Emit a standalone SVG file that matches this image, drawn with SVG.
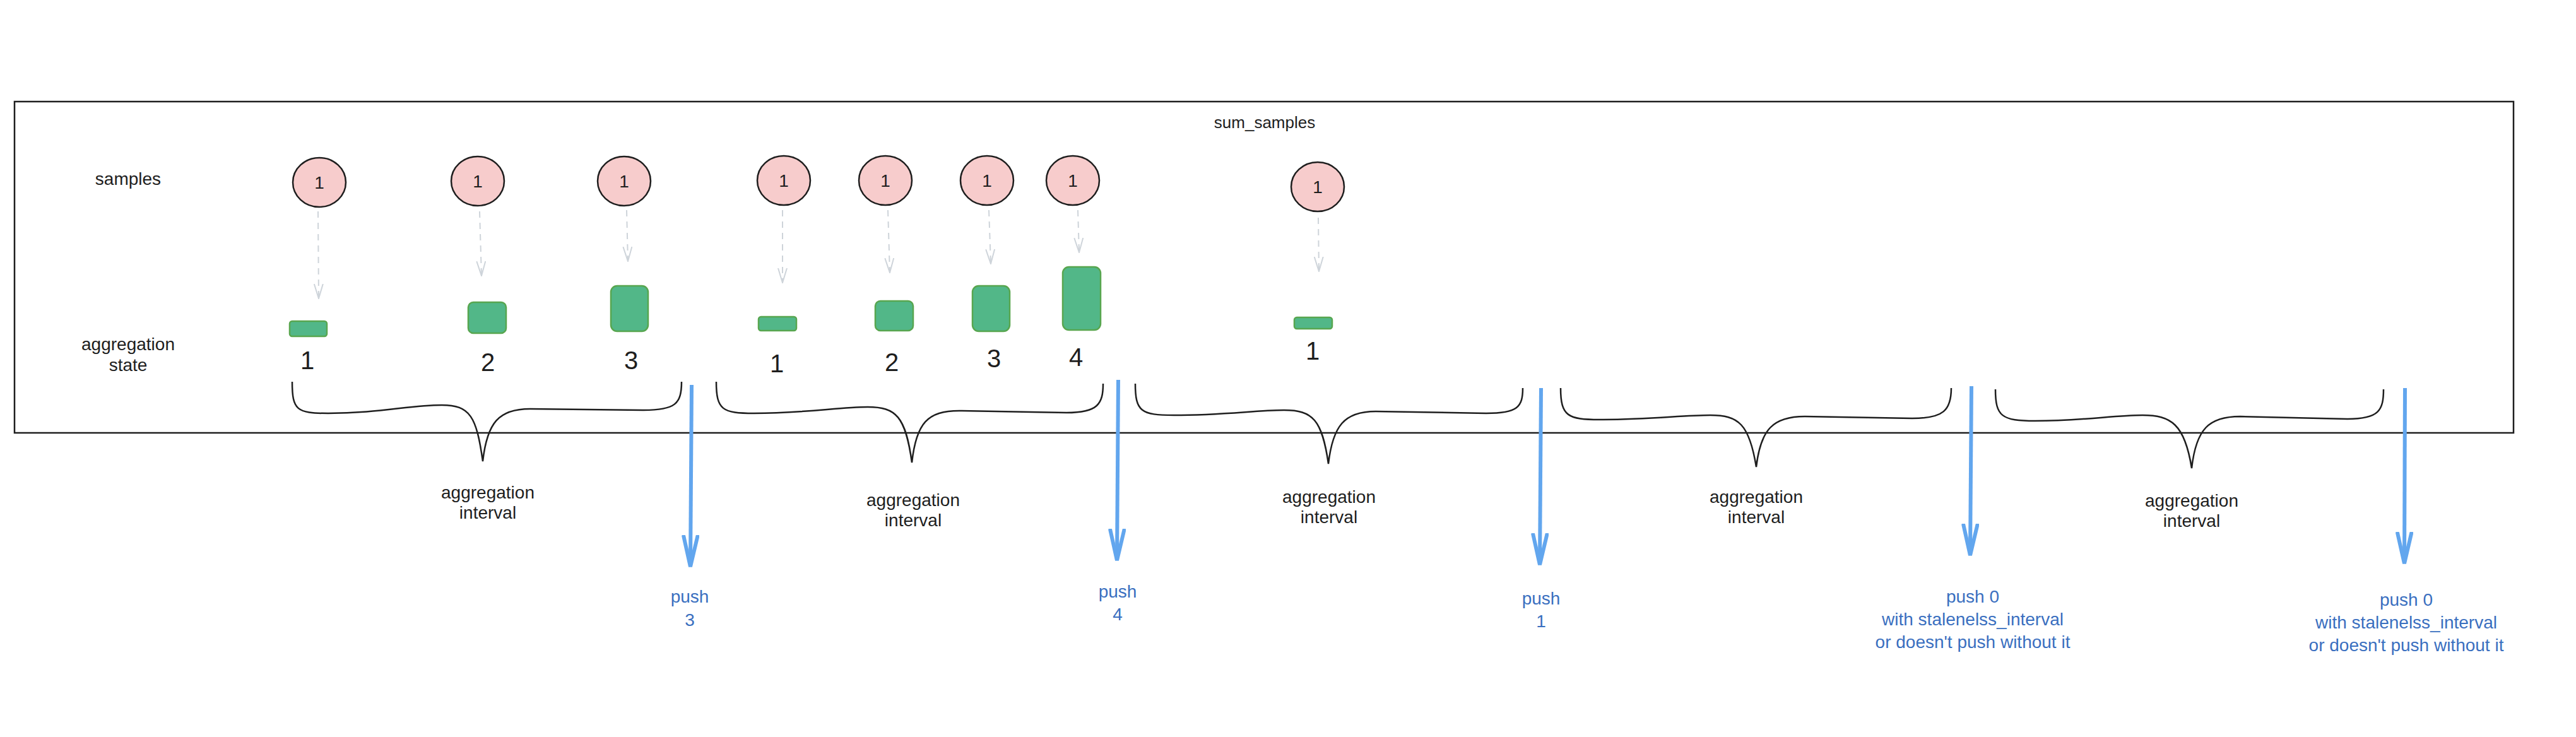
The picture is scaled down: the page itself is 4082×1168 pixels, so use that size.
<svg xmlns="http://www.w3.org/2000/svg" width="4082" height="1168" viewBox="0 0 4082 1168">
<style>
text{font-family:"Liberation Sans",Arial,sans-serif;fill:#1e1e1e;text-anchor:middle}
.lbl{font-size:28px}
.num{font-size:40px}
.small{font-size:26px}
.push{font-size:28px;fill:#3a6fc0}
.circ{fill:#f7cccc;stroke:#1e1e1e;stroke-width:2.5}
.bar{fill:#52b788;stroke:#58a64f;stroke-width:2.5}
.dash{stroke:#ced4da;stroke-width:2;stroke-dasharray:10 8;fill:none}
.brace{fill:none;stroke:#1e1e1e;stroke-width:2.5}
.blue{stroke:#62a6ee;stroke-width:6;fill:none}
</style>
<defs>
<marker id="ga" markerWidth="24" markerHeight="16" refX="23" refY="8" orient="auto" markerUnits="userSpaceOnUse" viewBox="0 0 24 16"><path d="M0 1 L23 8 L0 15" fill="none" stroke="#ced4da" stroke-width="2"/></marker>
<marker id="ba" markerWidth="52" markerHeight="28" refX="50" refY="14" orient="auto" markerUnits="userSpaceOnUse" viewBox="0 0 52 28"><path d="M2 3 L50 14 L2 25" fill="none" stroke="#62a6ee" stroke-width="6" stroke-linecap="round"/></marker>
</defs>
<g id="frame"><rect x="23" y="161" width="3960" height="525" fill="none" stroke="#1e1e1e" stroke-width="2.5"/><text x="2004" y="203" class="small">sum_samples</text></g>
<g id="label-samples"><text x="203" y="293" class="lbl">samples</text></g>
<g id="label-state"><text x="203" y="555" class="lbl">aggregation</text><text x="203" y="588" class="lbl">state</text></g>
<g id="samples">
<g id="s1"><ellipse cx="506" cy="289" rx="42" ry="39" class="circ"/><text x="506" y="299" class="lbl">1</text></g>
<g id="s2"><ellipse cx="757" cy="287" rx="42" ry="39" class="circ"/><text x="757" y="297" class="lbl">1</text></g>
<g id="s3"><ellipse cx="989" cy="287" rx="42" ry="39" class="circ"/><text x="989" y="297" class="lbl">1</text></g>
<g id="s4"><ellipse cx="1242" cy="286" rx="42" ry="39" class="circ"/><text x="1242" y="296" class="lbl">1</text></g>
<g id="s5"><ellipse cx="1403" cy="286" rx="42" ry="39" class="circ"/><text x="1403" y="296" class="lbl">1</text></g>
<g id="s6"><ellipse cx="1564" cy="286" rx="42" ry="39" class="circ"/><text x="1564" y="296" class="lbl">1</text></g>
<g id="s7"><ellipse cx="1700" cy="286" rx="42" ry="39" class="circ"/><text x="1700" y="296" class="lbl">1</text></g>
<g id="s8"><ellipse cx="2088" cy="296" rx="42" ry="39" class="circ"/><text x="2088" y="306" class="lbl">1</text></g>
</g>
<g id="states">
<g id="a1"><rect x="459" y="509" width="59" height="24" rx="4" class="bar"/><text x="487" y="585" class="num">1</text></g>
<g id="a2"><rect x="742" y="479" width="60" height="49" rx="8" class="bar"/><text x="773" y="588" class="num">2</text></g>
<g id="a3"><rect x="968" y="453" width="59" height="72" rx="10" class="bar"/><text x="1000" y="585" class="num">3</text></g>
<g id="a4"><rect x="1202" y="502" width="60" height="22" rx="4" class="bar"/><text x="1231" y="590" class="num">1</text></g>
<g id="a5"><rect x="1387" y="477" width="60" height="47" rx="8" class="bar"/><text x="1413" y="588" class="num">2</text></g>
<g id="a6"><rect x="1541" y="453" width="59" height="72" rx="10" class="bar"/><text x="1575" y="582" class="num">3</text></g>
<g id="a7"><rect x="1684" y="423" width="60" height="100" rx="10" class="bar"/><text x="1705" y="580" class="num">4</text></g>
<g id="a8"><rect x="2051" y="503" width="60" height="18" rx="4" class="bar"/><text x="2080" y="570" class="num">1</text></g>
</g>
<g id="intervals">
<g id="i1"><path d="M463 605 C463 650 470 655 520 655 C600 655 650 642 700 642 C745 642 755 660 765 731 C772 670 790 648 840 648 L1020 650 C1070 650 1080 640 1080 605" class="brace"/><text x="773" y="790" class="lbl">aggregation</text><text x="773" y="822" class="lbl">interval</text></g>
<g id="i2"><path d="M1135 605 C1135 650 1145 655 1195 655 C1275 655 1330 645 1375 645 C1420 645 1435 660 1445 733 C1452 670 1470 651 1520 651 L1690 654 C1740 654 1748 640 1748 608" class="brace"/><text x="1447" y="802" class="lbl">aggregation</text><text x="1447" y="834" class="lbl">interval</text></g>
<g id="i3"><path d="M1799 608 C1799 652 1808 658 1860 658 C1940 658 1990 650 2035 650 C2080 650 2095 665 2105 735 C2112 675 2130 652 2180 652 L2355 655 C2405 655 2413 645 2413 615" class="brace"/><text x="2106" y="797" class="lbl">aggregation</text><text x="2106" y="829" class="lbl">interval</text></g>
<g id="i4"><path d="M2473 615 C2473 660 2485 665 2535 665 C2615 665 2665 658 2710 658 C2755 658 2772 672 2783 740 C2790 680 2810 660 2860 660 L3030 663 C3080 663 3092 650 3092 615" class="brace"/><text x="2783" y="797" class="lbl">aggregation</text><text x="2783" y="829" class="lbl">interval</text></g>
<g id="i5"><path d="M3162 617 C3162 660 3172 667 3225 667 C3300 667 3350 658 3395 658 C3440 658 3462 672 3473 742 C3480 680 3500 660 3550 660 L3720 664 C3770 664 3777 650 3777 617" class="brace"/><text x="3473" y="803" class="lbl">aggregation</text><text x="3473" y="835" class="lbl">interval</text></g>
</g>
<g id="pushes">
<g id="p1"><text x="1093" y="955" class="push">push</text><text x="1093" y="992" class="push">3</text></g>
<g id="p2"><text x="1771" y="947" class="push">push</text><text x="1771" y="983" class="push">4</text></g>
<g id="p3"><text x="2442" y="958" class="push">push</text><text x="2442" y="994" class="push">1</text></g>
<g id="p4"><text x="3126" y="955" class="push">push 0</text><text x="3126" y="991" class="push">with stalenelss_interval</text><text x="3126" y="1027" class="push">or doesn't push without it</text></g>
<g id="p5"><text x="3813" y="960" class="push">push 0</text><text x="3813" y="996" class="push">with stalenelss_interval</text><text x="3813" y="1032" class="push">or doesn't push without it</text></g>
</g>
<g id="connectors">
<path d="M504 335 L505 473" class="dash" marker-end="url(#ga)"/>
<path d="M760 335 L763 437" class="dash" marker-end="url(#ga)"/>
<path d="M993 333 L995 414" class="dash" marker-end="url(#ga)"/>
<path d="M1240 333 L1240 448" class="dash" marker-end="url(#ga)"/>
<path d="M1407 333 L1410 432" class="dash" marker-end="url(#ga)"/>
<path d="M1567 333 L1570 418" class="dash" marker-end="url(#ga)"/>
<path d="M1708 333 L1710 400" class="dash" marker-end="url(#ga)"/>
<path d="M2089 345 L2090 430" class="dash" marker-end="url(#ga)"/>
<path d="M1096 610 L1094 898" class="blue" marker-end="url(#ba)"/>
<path d="M1772 602 L1770 888" class="blue" marker-end="url(#ba)"/>
<path d="M2442 615 L2440 895" class="blue" marker-end="url(#ba)"/>
<path d="M3124 612 L3122 880" class="blue" marker-end="url(#ba)"/>
<path d="M3811 615 L3810 893" class="blue" marker-end="url(#ba)"/>
</g>
</svg>
